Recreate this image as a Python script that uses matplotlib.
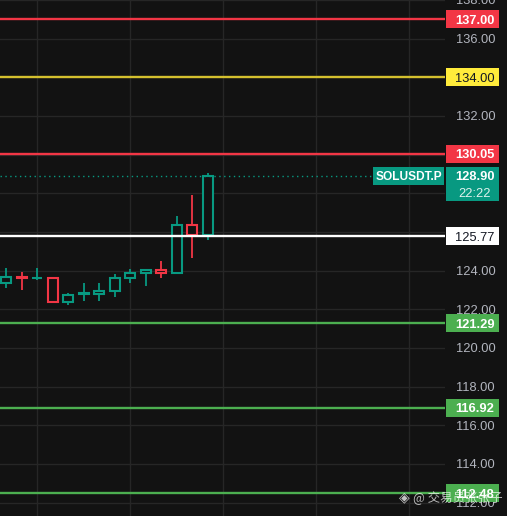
import numpy as np
import matplotlib
matplotlib.use('Agg')
import matplotlib.pyplot as plt
from matplotlib import transforms
from matplotlib.patches import Rectangle

### data
opens = [123.37, 123.68, 123.60, 123.63, 122.39, 122.80, 122.80, 122.96, 123.63, 123.88, 124.04, 123.88, 126.36, 125.84]
closes = [123.68, 123.61, 123.63, 122.39, 122.75, 122.80, 122.96, 123.63, 123.88, 124.04, 123.88, 126.36, 125.84, 128.90]
highs = [124.16, 123.95, 124.16, 123.63, 122.87, 123.38, 123.38, 123.85, 124.10, 124.04, 124.52, 126.83, 127.92, 129.03]
lows = [123.09, 122.99, 123.54, 122.32, 122.22, 122.42, 122.42, 122.63, 123.35, 123.19, 123.61, 123.88, 124.64, 125.61]

level_prices = [137.00, 134.00, 130.05, 125.77, 121.29, 116.92, 112.48]
level_labels = ['137.00', '134.00', '130.05', '125.77', '121.29', '116.92', '112.48']
level_kinds = ['red', 'yellow', 'red', 'white', 'green', 'green', 'green']

tick_values = [112, 114, 116, 118, 120, 122, 124, 132, 136, 138]
last_price = 128.90
symbol = 'SOLUSDT.P'
countdown = '22:22'
watermark = '@ 交易员张张子'

### styles
plt.rcParams['font.family'] = ['Liberation Sans', 'DejaVu Sans']
BG = '#121212'
GRID = '#262626'
UP = '#089981'
DOWN = '#f23645'
LINE_COLORS = {'red': '#f23645', 'yellow': '#d4c02e', 'white': '#ffffff', 'green': '#4caf50'}
BOX_COLORS = {'red': '#f23645', 'yellow': '#ffeb3b', 'white': '#ffffff', 'green': '#4caf50'}
BOX_TEXT = {'red': '#ffffff', 'yellow': '#131722', 'white': '#131722', 'green': '#ffffff'}
FS = 9.3

W, H = 507, 516
fig = plt.figure(figsize=(W / 100, H / 100), dpi=100, facecolor=BG)
ax = fig.add_axes([0, 0, 445 / W, 1])
ax.set_facecolor(BG)

ax.set_xlim(-0.41, 28.3)
ax.set_ylim(111.31, 137.9)

### grid
for gx in [2, 8, 14, 20, 26]:
    ax.axvline(gx, color=GRID, lw=1, zorder=0)
for gy in range(112, 139, 2):
    ax.axhline(gy, color=GRID, lw=1, zorder=0)

### candles (hollow bodies)
x = np.arange(len(opens))
for i in x:
    c = UP if closes[i] >= opens[i] else DOWN
    ax.vlines(i, lows[i], highs[i], color=c, lw=1.3, zorder=2)
    lo, hi = min(opens[i], closes[i]), max(opens[i], closes[i])
    ax.add_patch(Rectangle((i - 0.32, lo), 0.64, max(hi - lo, 0.04),
                           facecolor=BG, edgecolor=c, lw=1.5, zorder=3))

### level lines
for p, k in zip(level_prices, level_kinds):
    ax.axhline(p, color=LINE_COLORS[k], lw=1.7, zorder=5)

### current price dotted line
ax.plot([-0.41, 23.6], [last_price, last_price], color=UP, lw=1, ls=(0, (1, 2.5)), zorder=4)

### price axis
for s in ax.spines.values():
    s.set_visible(False)
ax.set_xticks([])
ax.yaxis.tick_right()
ax.set_yticks(tick_values)
ax.set_yticklabels(['%.2f' % v for v in tick_values])
ax.tick_params(axis='y', length=0, pad=8, labelsize=FS, labelcolor='#b2b5be')

trans = transforms.blended_transform_factory(fig.transFigure, ax.transData)
box_h = 0.93
for p, lab, k in zip(level_prices, level_labels, level_kinds):
    fig.add_artist(Rectangle((446 / W, p - box_h / 2), 53 / W, box_h, transform=trans,
                             facecolor=BOX_COLORS[k], edgecolor='none', zorder=6))
    fig.text(475 / W, p, lab, transform=trans, ha='center', va='center_baseline',
             fontsize=FS, color=BOX_TEXT[k], fontweight='bold' if k in ('red', 'green') else 'normal', zorder=7)

# last price box
fig.add_artist(Rectangle((446 / W, last_price - 1.32), 53 / W, 1.78, transform=trans,
                         facecolor=UP, edgecolor='none', zorder=6))
fig.text(475 / W, last_price, '%.2f' % last_price, transform=trans, ha='center', va='center_baseline',
         fontsize=FS, color='white', fontweight='bold', zorder=7)
fig.text(475 / W, last_price - 0.85, countdown, transform=trans, ha='center', va='center_baseline',
         fontsize=FS, color='#e0f2ee', zorder=7)
fig.add_artist(Rectangle((373 / W, last_price - box_h / 2), 71 / W, box_h, transform=trans,
                         facecolor=UP, edgecolor='none', zorder=6))
fig.text(409 / W, last_price, symbol, transform=trans, ha='center', va='center_baseline',
         fontsize=8.6, color='white', fontweight='bold', zorder=7)

### watermark
fig.text(399 / W, 1 - 497 / H, '◈', ha='left', va='center', fontsize=10,
         family='DejaVu Sans', color='white', alpha=0.75, zorder=8)
fig.text(413 / W, 1 - 497 / H, watermark, ha='left', va='center', fontsize=9,
         family=['Noto Sans CJK SC', 'DejaVu Sans'], color='white', alpha=0.7, zorder=8)

fig.savefig('out.png', dpi=100, facecolor=BG)
